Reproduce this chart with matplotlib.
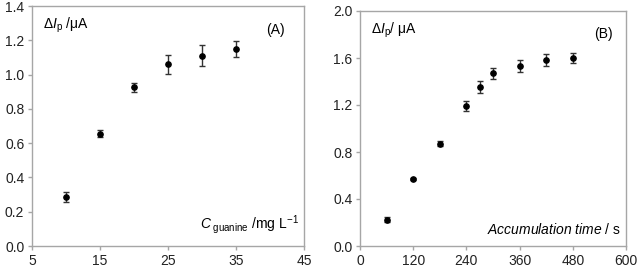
import matplotlib
matplotlib.use("Agg")
import matplotlib.pyplot as plt

plt.rcParams['font.family'] = ['Liberation Sans', 'DejaVu Sans']
plt.rcParams['mathtext.fontset'] = 'custom'
plt.rcParams['mathtext.rm'] = 'Liberation Sans'
plt.rcParams['mathtext.it'] = 'Liberation Sans:italic'
plt.rcParams['font.size'] = 10

# panel A: guanine concentration
conc = [10, 15, 20, 25, 30, 35]
ip_conc = [0.285, 0.655, 0.925, 1.06, 1.11, 1.15]
err_conc = [0.03, 0.02, 0.025, 0.055, 0.06, 0.045]

# panel B: accumulation time
acc_time = [60, 120, 180, 240, 270, 300, 360, 420, 480]
ip_time = [0.225, 0.57, 0.87, 1.19, 1.35, 1.47, 1.53, 1.58, 1.60]
err_time = [0.02, 0.012, 0.022, 0.045, 0.05, 0.045, 0.05, 0.05, 0.045]

xticks_a = [5, 15, 25, 35, 45]
yticks_a = [0.0, 0.2, 0.4, 0.6, 0.8, 1.0, 1.2, 1.4]
xticks_b = [0, 120, 240, 360, 480, 600]
yticks_b = [0.0, 0.4, 0.8, 1.2, 1.6, 2.0]

W, H = 637, 269
fig = plt.figure(figsize=(W / 100, H / 100), dpi=100)
ax1 = fig.add_axes([32 / W, 1 - 246 / H, 272 / W, 240 / H])
ax2 = fig.add_axes([360 / W, 1 - 246 / H, 266 / W, 235 / H])

spine_col = '#a6a6a6'
fs = 10


def style(ax):
    for s in ax.spines.values():
        s.set_color(spine_col)
        s.set_linewidth(1.0)
    ax.tick_params(direction='out', length=3, width=1, color=spine_col,
                   labelsize=fs, labelcolor='#222222', pad=2.5)


def draw(ax, x, y, e):
    ax.errorbar(x, y, yerr=e, fmt='o', color='black', ms=3.8,
                ecolor='#333333', elinewidth=1, capsize=2.5, capthick=1)


draw(ax1, conc, ip_conc, err_conc)
ax1.set_xlim(5, 45)
ax1.set_ylim(0, 1.4)
ax1.set_xticks(xticks_a)
ax1.set_yticks(yticks_a)
ax1.set_yticklabels([f'{v:.1f}' for v in yticks_a])
style(ax1)
ax1.text(0.04, 0.96, r'$\mathit{ΔI}_{\mathrm{p}}$ /μA', transform=ax1.transAxes,
         ha='left', va='top', fontsize=fs)
ax1.text(0.93, 0.93, '(A)', transform=ax1.transAxes, ha='right', va='top', fontsize=fs)
ax1.text(0.98, 0.04, r'$\mathit{C}_{\mathrm{\ guanine}}$ /mg L$^{\mathrm{-1}}$',
         transform=ax1.transAxes, ha='right', va='bottom', fontsize=fs)

draw(ax2, acc_time, ip_time, err_time)
ax2.set_xlim(0, 600)
ax2.set_ylim(0, 2.0)
ax2.set_xticks(xticks_b)
ax2.set_yticks(yticks_b)
ax2.set_yticklabels([f'{v:.1f}' for v in yticks_b])
style(ax2)
ax2.text(0.04, 0.96, r'$\mathit{ΔI}_{\mathrm{p}}$/ μA', transform=ax2.transAxes,
         ha='left', va='top', fontsize=fs)
ax2.text(0.95, 0.93, '(B)', transform=ax2.transAxes, ha='right', va='top', fontsize=fs)
ax2.text(0.98, 0.04, r'$\mathit{Accumulation\ time}$ / s', transform=ax2.transAxes,
         ha='right', va='bottom', fontsize=fs)

fig.savefig('out.png', dpi=100)
